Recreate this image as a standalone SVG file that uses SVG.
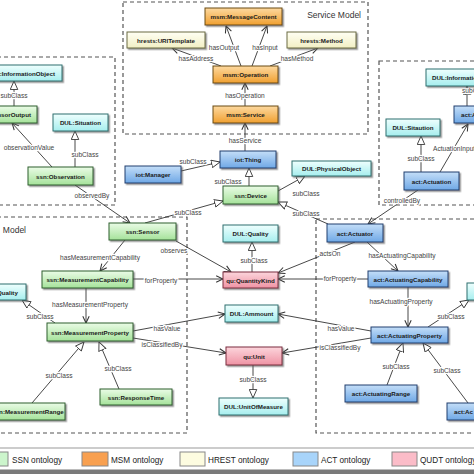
<svg xmlns="http://www.w3.org/2000/svg" width="474" height="474" viewBox="0 0 474 474">
<defs>
<linearGradient id="g-ssn" x1="0" y1="0" x2="0" y2="1"><stop offset="0" stop-color="#eafce6"/><stop offset="1" stop-color="#a5e29a"/></linearGradient>
<linearGradient id="g-msm" x1="0" y1="0" x2="0" y2="1"><stop offset="0" stop-color="#fdd9a0"/><stop offset="1" stop-color="#f0a030"/></linearGradient>
<linearGradient id="g-hr" x1="0" y1="0" x2="0" y2="1"><stop offset="0" stop-color="#fffff4"/><stop offset="1" stop-color="#f2efc4"/></linearGradient>
<linearGradient id="g-act" x1="0" y1="0" x2="0" y2="1"><stop offset="0" stop-color="#c4def8"/><stop offset="1" stop-color="#6fa8e6"/></linearGradient>
<linearGradient id="g-dul" x1="0" y1="0" x2="0" y2="1"><stop offset="0" stop-color="#effffe"/><stop offset="1" stop-color="#a6eeee"/></linearGradient>
<linearGradient id="g-qu" x1="0" y1="0" x2="0" y2="1"><stop offset="0" stop-color="#fcd5dc"/><stop offset="1" stop-color="#ef93a4"/></linearGradient>
<filter id="sh" x="-10%" y="-20%" width="130%" height="160%"><feDropShadow dx="1.5" dy="1.5" stdDeviation="0.6" flood-color="#555" flood-opacity="0.6"/></filter>
<marker id="arr" viewBox="0 0 10 10" refX="9.5" refY="5" markerWidth="8" markerHeight="8" markerUnits="userSpaceOnUse" orient="auto"><path d="M1,1 L9.5,5 L1,9" fill="none" stroke="#333" stroke-width="1.3"/></marker>
<marker id="tri" viewBox="0 0 10 10" refX="10" refY="5" markerWidth="9" markerHeight="9" markerUnits="userSpaceOnUse" orient="auto"><path d="M0.5,0.8 L10,5 L0.5,9.2 Z" fill="#fff" stroke="#333" stroke-width="1"/></marker>
</defs>
<style>
.n rect{filter:url(#sh);stroke-width:1}
.ssn rect{fill:url(#g-ssn);stroke:#2f5f2f}
.msm rect{fill:url(#g-msm);stroke:#6b4a10}
.hr rect{fill:url(#g-hr);stroke:#6b6b40}
.act rect{fill:url(#g-act);stroke:#1f3f6f}
.dul rect{fill:url(#g-dul);stroke:#2f6f6f}
.qu rect{fill:url(#g-qu);stroke:#7a2f3f}
.n text{font-family:"Liberation Sans",Arial,sans-serif;font-weight:bold;font-size:6.2px;fill:#1a1a1a;text-anchor:middle;dominant-baseline:central}
.e line{stroke:#333;stroke-width:0.9;fill:none}
.p{marker-end:url(#arr)}
.s{marker-end:url(#tri)}
.l text{font-family:"Liberation Sans",Arial,sans-serif;font-size:6.6px;fill:#444;text-anchor:middle;dominant-baseline:central;paint-order:stroke;stroke:#fff;stroke-width:2.4px;stroke-linejoin:round}
.box{fill:none;stroke:#555;stroke-width:1.2;stroke-dasharray:4,3}
.lg{font-family:"Liberation Sans",Arial,sans-serif;font-size:8.2px;fill:#222}
.lgb{stroke:#888;stroke-width:1}
</style>
<rect width="474" height="474" fill="#fff"/>
<g id="containers">
<rect class="box" x="123" y="2" width="245" height="132"/>
<rect class="box" x="-10" y="57" width="125" height="148"/>
<rect class="box" x="379" y="61" width="110" height="144"/>
<rect class="box" x="-10" y="217" width="197" height="216"/>
<rect class="box" x="316" y="219" width="170" height="214"/>
<text x="361" y="18" text-anchor="end" style="font-family:'Liberation Sans',Arial,sans-serif;font-size:8.5px;fill:#333">Service Model</text>
<text x="26" y="233" text-anchor="end" style="font-family:'Liberation Sans',Arial,sans-serif;font-size:8.5px;fill:#333">Model</text>
</g>
<g id="connectors" class="e">
<line class="p" x1="241" y1="66" x2="226" y2="26"/>
<line class="p" x1="252" y1="66" x2="267" y2="26"/>
<line class="p" x1="221" y1="66" x2="172" y2="48"/>
<line class="p" x1="270" y1="66" x2="318" y2="48"/>
<line class="p" x1="245" y1="106" x2="245" y2="83"/>
<line class="p" x1="245" y1="151" x2="245" y2="123"/>
<line class="p" x1="52" y1="167" x2="12" y2="123"/>
<line class="p" x1="75" y1="185" x2="130" y2="223"/>
<line class="p" x1="125" y1="240" x2="100" y2="271"/>
<line class="p" x1="133" y1="279" x2="223" y2="279"/>
<line class="p" x1="176" y1="241" x2="231" y2="272"/>
<line class="p" x1="86" y1="288" x2="86" y2="323"/>
<line class="p" x1="133" y1="331" x2="225" y2="314"/>
<line class="p" x1="133" y1="338" x2="226" y2="353"/>
<line class="p" x1="418" y1="190" x2="368" y2="224"/>
<line class="p" x1="440" y1="172" x2="468" y2="124"/>
<line class="p" x1="355" y1="242" x2="278" y2="273"/>
<line class="p" x1="367" y1="242" x2="398" y2="271"/>
<line class="p" x1="368" y1="279" x2="278" y2="279"/>
<line class="p" x1="408" y1="287" x2="408" y2="327"/>
<line class="p" x1="371" y1="331" x2="278" y2="314"/>
<line class="p" x1="371" y1="338" x2="282" y2="353"/>
<line class="s" x1="14" y1="106" x2="14" y2="81"/>
<line class="s" x1="75" y1="167" x2="75" y2="131"/>
<line class="s" x1="181" y1="171" x2="220" y2="162"/>
<line class="s" x1="249" y1="186" x2="249" y2="168"/>
<line class="s" x1="278" y1="191" x2="305" y2="176"/>
<line class="s" x1="145" y1="223" x2="223" y2="201"/>
<line class="s" x1="328" y1="224" x2="278" y2="202"/>
<line class="s" x1="252" y1="272" x2="252" y2="242"/>
<line class="s" x1="253" y1="365" x2="253" y2="398"/>
<line class="s" x1="55" y1="323" x2="22" y2="300"/>
<line class="s" x1="32" y1="403" x2="84" y2="342"/>
<line class="s" x1="119" y1="389" x2="99" y2="342"/>
<line class="s" x1="421" y1="172" x2="421" y2="136"/>
<line class="s" x1="467" y1="106" x2="467" y2="86"/>
<line class="s" x1="387" y1="385" x2="403" y2="343"/>
<line class="s" x1="468" y1="403" x2="423" y2="343"/>
<line class="s" x1="428" y1="327" x2="469" y2="300"/>
</g>
<g id="edge-labels" class="l">
<text x="224" y="47">hasOutput</text>
<text x="265" y="47">hasInput</text>
<text x="196" y="58">hasAddress</text>
<text x="297" y="58">hasMethod</text>
<text x="245" y="95">hasOperation</text>
<text x="245" y="140">hasService</text>
<text x="29" y="147">observationValue</text>
<text x="92" y="195">observedBy</text>
<text x="100" y="257">hasMeasurementCapability</text>
<text x="161" y="280">forProperty</text>
<text x="174" y="250">observes</text>
<text x="90" y="304">hasMeasurementProperty</text>
<text x="167" y="328">hasValue</text>
<text x="162" y="344">isClassifiedBy</text>
<text x="402" y="200">controlledBy</text>
<text x="433" y="148" style="text-anchor:start">ActuationInput</text>
<text x="330" y="253">actsOn</text>
<text x="402" y="255">hasActuatingCapability</text>
<text x="340" y="278">forProperty</text>
<text x="401" y="301">hasActuatingProperty</text>
<text x="341" y="328">hasValue</text>
<text x="340" y="347">isClassifiedBy</text>
<text x="14" y="95">subClass</text>
<text x="85" y="154">subClass</text>
<text x="193" y="161">subClass</text>
<text x="228" y="181">subClass</text>
<text x="306" y="193">subClass</text>
<text x="188" y="212">subClass</text>
<text x="306" y="213">subClass</text>
<text x="254" y="260">subClass</text>
<text x="253" y="379">subClass</text>
<text x="40" y="316">subClass</text>
<text x="59" y="375">subClass</text>
<text x="118" y="368">subClass</text>
<text x="421" y="158">subClass</text>
<text x="462" y="90" style="text-anchor:start">subClass</text>
<text x="396" y="366">subClass</text>
<text x="447" y="370">subClass</text>
<text x="451" y="316">subClass</text>
</g>
<g id="n-messagecontent" class="n msm"><rect x="205" y="8" width="77" height="17"/><text x="243.5" y="16.5">msm:MessageContent</text></g>
<g id="n-uritemplate" class="n hr"><rect x="127" y="32" width="78" height="16"/><text x="166" y="40">hrests:URITemplate</text></g>
<g id="n-method" class="n hr"><rect x="287" y="32" width="69" height="16"/><text x="321.5" y="40">hrests:Method</text></g>
<g id="n-operation" class="n msm"><rect x="213" y="66" width="65" height="17"/><text x="245.5" y="74.5">msm:Operation</text></g>
<g id="n-service" class="n msm"><rect x="213" y="106" width="65" height="17"/><text x="245.5" y="114.5">msm:Service</text></g>
<g id="n-thing" class="n act"><rect x="220" y="151" width="56" height="17"/><text x="248" y="159.5">iot:Thing</text></g>
<g id="n-manager" class="n act"><rect x="125" y="166" width="56" height="17"/><text x="153" y="174.5">iot:Manager</text></g>
<g id="n-device" class="n ssn"><rect x="223" y="186" width="55" height="18"/><text x="250.5" y="195">ssn:Device</text></g>
<g id="n-physicalobject" class="n dul"><rect x="292" y="161" width="79" height="15"/><text x="331.5" y="168.5">DUL:PhysicalObject</text></g>
<g id="n-sensor" class="n ssn"><rect x="109" y="223" width="67" height="17"/><text x="142.5" y="231.5">ssn:Sensor</text></g>
<g id="n-actuator" class="n act"><rect x="327" y="224" width="56" height="18"/><text x="355" y="233">act:Actuator</text></g>
<g id="n-quality" class="n dul"><rect x="223" y="225" width="55" height="17"/><text x="250.5" y="233.5">DUL:Quality</text></g>
<g id="n-quantitykind" class="n qu"><rect x="223" y="272" width="55" height="16"/><text x="250.5" y="280">qu:QuantityKind</text></g>
<g id="n-ammount" class="n dul"><rect x="225" y="305" width="53" height="17"/><text x="251.5" y="313.5">DUL:Ammount</text></g>
<g id="n-unit" class="n qu"><rect x="226" y="347" width="56" height="18"/><text x="254" y="356">qu:Unit</text></g>
<g id="n-unitofmeasure" class="n dul"><rect x="219" y="398" width="69" height="17"/><text x="253.5" y="406.5">DUL:UnitOfMeasure</text></g>
<g id="n-informationobject-l" class="n dul"><rect x="-18" y="65" width="80" height="16"/><text x="21" y="73">DUL:InformationObject</text></g>
<g id="n-sensoroutput" class="n ssn"><rect x="-28" y="106" width="65" height="17"/><text x="4" y="114.5">ssn:SensorOutput</text></g>
<g id="n-situation-l" class="n dul"><rect x="53" y="114" width="55" height="17"/><text x="80.5" y="122.5">DUL:Situation</text></g>
<g id="n-observation" class="n ssn"><rect x="28" y="167" width="65" height="18"/><text x="60.5" y="176">ssn:Observation</text></g>
<g id="n-informationobject-r" class="n dul"><rect x="426" y="69" width="80" height="17"/><text x="432" y="77.5" style="text-anchor:start">DUL:InformationObject</text></g>
<g id="n-actuationinput" class="n act"><rect x="454" y="106" width="60" height="17"/><text x="461" y="114.5" style="text-anchor:start">act:Actu</text></g>
<g id="n-situation-r" class="n dul"><rect x="386" y="119" width="54" height="17"/><text x="413" y="127.5">DUL:Sitaution</text></g>
<g id="n-actuation" class="n act"><rect x="404" y="172" width="55" height="18"/><text x="431.5" y="181">act:Actuation</text></g>
<g id="n-measurementcapability" class="n ssn"><rect x="42" y="271" width="91" height="17"/><text x="87.5" y="279.5">ssn:MeasurementCapability</text></g>
<g id="n-quality-l" class="n dul"><rect x="-30" y="284" width="56" height="16"/><text x="0" y="292">DUL:Quality</text></g>
<g id="n-measurementproperty" class="n ssn"><rect x="47" y="323" width="86" height="18"/><text x="90" y="332">ssn:MeasurementProperty</text></g>
<g id="n-measurementrange" class="n ssn"><rect x="-10" y="403" width="75" height="17"/><text x="28" y="411.5">ssn:MeasurementRange</text></g>
<g id="n-responsetime" class="n ssn"><rect x="100" y="389" width="72" height="16"/><text x="136" y="397">ssn:ResponseTime</text></g>
<g id="n-actuatingcapability" class="n act"><rect x="368" y="271" width="80" height="16"/><text x="408" y="279">act:ActuatingCapability</text></g>
<g id="n-actuatingproperty" class="n act"><rect x="371" y="327" width="77" height="16"/><text x="409.5" y="335">act:ActuatingProperty</text></g>
<g id="n-actuatingrange" class="n act"><rect x="345" y="385" width="72" height="17"/><text x="381" y="393.5">act:ActuatingRange</text></g>
<g id="n-act-br" class="n act"><rect x="447" y="403" width="60" height="17"/><text x="454" y="411.5" style="text-anchor:start">act:Ac</text></g>
<g id="n-quality-r" class="n dul"><rect x="467" y="283" width="40" height="17"/></g>
<g id="legend">
<line x1="0" y1="448" x2="474" y2="448" stroke="#999" stroke-width="1"/>
<rect x="0" y="469.5" width="474" height="4.5" fill="#7a7a7a"/>
<rect class="lgb" x="-18" y="452" width="26" height="14" fill="#ccf5cc"/>
<text class="lg" x="12" y="462.5">SSN ontology</text>
<rect class="lgb" x="82" y="452" width="26" height="14" fill="#f8a050"/>
<text class="lg" x="111" y="462.5">MSM ontology</text>
<rect class="lgb" x="180" y="452" width="25" height="14" fill="#fdfce0"/>
<text class="lg" x="208" y="462.5">HREST ontology</text>
<rect class="lgb" x="293" y="452" width="25" height="14" fill="#a8d4fa"/>
<text class="lg" x="321" y="462.5">ACT ontology</text>
<rect class="lgb" x="392" y="452" width="25" height="14" fill="#fbbcc8"/>
<text class="lg" x="420" y="462.5">QUDT ontology</text>
</g>
</svg>
